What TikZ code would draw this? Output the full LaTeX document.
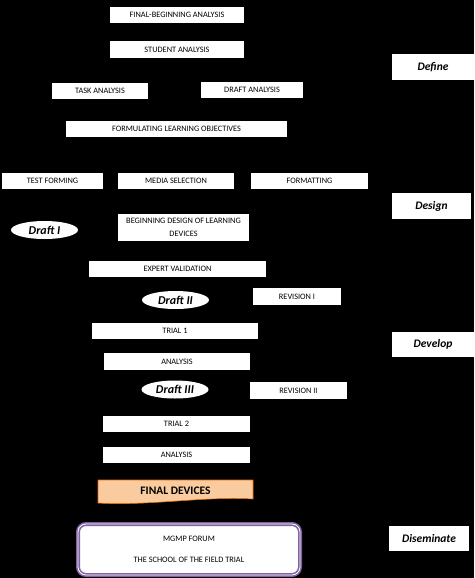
\documentclass[tikz,border=0pt]{standalone}
\usepackage{fontspec}
\setmainfont{Carlito}
\usetikzlibrary{shapes.geometric, calc}
\definecolor{peach}{HTML}{FBCBA0}
\definecolor{deeporange}{HTML}{E46C0A}
\definecolor{lilac}{HTML}{8064A2}
\tikzset{stage/.style 2 args={fill=white, inner sep=0pt, align=center, minimum width=#1, minimum height=#2, font=\fontsize{8.3}{12.7}\selectfont},
	phase/.style={fill=white, inner sep=0pt, minimum height=25pt, font=\fontsize{11.5}{13}\selectfont\bfseries\itshape},
	draft/.style={ellipse, fill=white, inner sep=0pt, minimum width=67pt, minimum height=18pt, font=\fontsize{12}{14}\selectfont\bfseries\itshape}}

\begin{document}
\begin{tikzpicture}[x=1pt, y=-1pt]
	\useasboundingbox (0,0) rectangle (474,578);
	\fill[black] (0,0) rectangle (474,578);
	
	\node[stage={134pt}{16pt}] (fba) at (177,15) {FINAL-BEGINNING ANALYSIS};
	\node[stage={134pt}{17pt}] (sa) at (177,49.5) {STUDENT ANALYSIS};
	\node[stage={96pt}{16pt}] (ta) at (100,91) {TASK ANALYSIS};
	\node[stage={102pt}{16pt}] (da) at (252,90) {DRAFT ANALYSIS};
	\node[stage={221pt}{16pt}] (flo) at (176.5,129) {FORMULATING LEARNING OBJECTIVES};
	
	\node[stage={101pt}{16pt}] (tf) at (52.5,181) {TEST FORMING};
	\node[stage={116pt}{16pt}] (ms) at (176,181) {MEDIA SELECTION};
	\node[stage={117pt}{16pt}] (fm) at (309.5,181) {FORMATTING};
	\node[stage={131pt}{27pt}] (bdld) at (183.5,227.5) {BEGINNING DESIGN OF LEARNING\\DEVICES};
	\node[draft] (d1) at (44.5,230) {Draft I};
	
	\node[stage={177pt}{16pt}] (ev) at (177.5,269) {EXPERT VALIDATION};
	\node[draft] (d2) at (175.5,300) {Draft II};
	\node[stage={88pt}{17pt}] (r1) at (297,296.5) {REVISION I};
	\node[stage={166pt}{16pt}] (t1) at (175,331) {TRIAL 1};
	\node[stage={146pt}{17pt}] (an1) at (177,361.5) {ANALYSIS};
	\node[draft] (d3) at (175,389.5) {Draft III};
	\node[stage={97pt}{17pt}] (r2) at (298.5,390.5) {REVISION II};
	\node[stage={147pt}{16pt}] (t2) at (176.5,424) {TRIAL 2};
	\node[stage={147pt}{16pt}] (an2) at (176.5,455) {ANALYSIS};
	
	\draw[deeporange, fill=peach, line width=0.6pt] (98,480) -- (253,480) -- (253,499) .. controls (205,496) and (150,506) .. (98,503) -- cycle;
	\node[font=\fontsize{11.5}{13}\selectfont\bfseries] (fd) at (175.5,490.5) {FINAL DEVICES};
	
	\node[stage={222pt}{51pt}, draw=lilac, line width=1.6pt, double=white, double distance=0.8pt, rounded corners=8pt] (forum) at (189,549.5) {MGMP FORUM\\[8.3pt]THE SCHOOL OF THE FIELD TRIAL};
	
	\node[phase, minimum width=82pt] (define) at (433,67) {Define};
	\node[phase, minimum width=79pt, minimum height=26pt] (design) at (431.5,206) {Design};
	\node[phase, minimum width=82pt] (develop) at (433,344.5) {Develop};
	\node[phase, minimum width=80pt] (diseminate) at (429,538.5) {Diseminate};
\end{tikzpicture}
\end{document}
